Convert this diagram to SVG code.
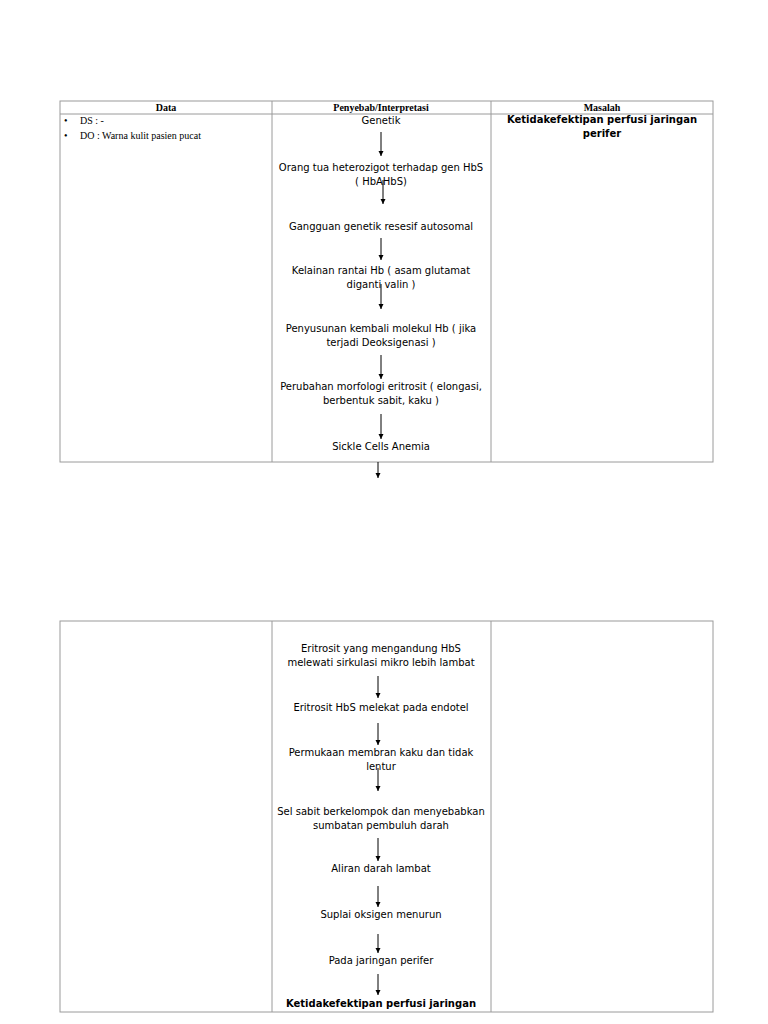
<svg xmlns="http://www.w3.org/2000/svg" width="768" height="1024" viewBox="0 0 768 1024">
<style>
.grid{fill:none;stroke:#9a9a9a;stroke-width:1}
.t{font-family:"DejaVu Sans",sans-serif;font-size:10px;fill:#000;text-anchor:middle}
.b{font-weight:bold}
.s{font-family:"Liberation Serif",serif;font-size:10px;fill:#000}
.h{font-family:"Liberation Serif",serif;font-size:10px;font-weight:bold;text-anchor:middle}
.c line{stroke:#000;stroke-width:1}
</style>
<defs><marker id="a" markerWidth="6" markerHeight="6" refX="5" refY="3" orient="auto" markerUnits="userSpaceOnUse"><path d="M0,0.5 L5,3 L0,5.5 Z" fill="#000"/></marker></defs>
<rect fill="#fff" width="768" height="1024"/>
<g id="table1">
<rect class="grid" x="60" y="101" width="653" height="361"/>
<line class="grid" x1="60" y1="114" x2="713" y2="114"/>
<line class="grid" x1="272" y1="101" x2="272" y2="462"/>
<line class="grid" x1="491" y1="101" x2="491" y2="462"/>
<text class="h" x="166" y="111">Data</text>
<text class="h" x="381" y="111">Penyebab/Interpretasi</text>
<text class="h" x="602" y="111">Masalah</text>
<text class="s" x="64" y="124">•</text><text class="s" x="80" y="124">DS : -</text>
<text class="s" x="64" y="139">•</text><text class="s" x="80" y="139">DO : Warna kulit pasien pucat</text>
<text class="t b" x="602" y="123">Ketidakefektipan perfusi jaringan</text>
<text class="t b" x="602" y="137">perifer</text>
</g>
<g id="table2">
<rect class="grid" x="60" y="621" width="653" height="391"/>
<line class="grid" x1="272" y1="621" x2="272" y2="1012"/>
<line class="grid" x1="491" y1="621" x2="491" y2="1012"/>
</g>
<g id="n1"><text class="t" x="381" y="124">Genetik</text></g>
<g id="n2"><text class="t" x="381" y="171">Orang tua heterozigot terhadap gen HbS</text><text class="t" x="381" y="185">( HbAHbS)</text></g>
<g id="n3"><text class="t" x="381" y="230">Gangguan genetik resesif autosomal</text></g>
<g id="n4"><text class="t" x="381" y="274">Kelainan rantai Hb ( asam glutamat</text><text class="t" x="381" y="288">diganti valin )</text></g>
<g id="n5"><text class="t" x="381" y="332">Penyusunan kembali molekul Hb ( jika</text><text class="t" x="381" y="346">terjadi Deoksigenasi )</text></g>
<g id="n6"><text class="t" x="381" y="390">Perubahan morfologi eritrosit ( elongasi,</text><text class="t" x="381" y="404">berbentuk sabit, kaku )</text></g>
<g id="n7"><text class="t" x="381" y="450">Sickle Cells Anemia</text></g>
<g id="n8"><text class="t" x="381" y="652">Eritrosit yang mengandung HbS</text><text class="t" x="381" y="666">melewati sirkulasi mikro lebih lambat</text></g>
<g id="n9"><text class="t" x="381" y="711">Eritrosit HbS melekat pada endotel</text></g>
<g id="n10"><text class="t" x="381" y="756">Permukaan membran kaku dan tidak</text><text class="t" x="381" y="770">lentur</text></g>
<g id="n11"><text class="t" x="381" y="815">Sel sabit berkelompok dan menyebabkan</text><text class="t" x="381" y="829">sumbatan pembuluh darah</text></g>
<g id="n12"><text class="t" x="381" y="872">Aliran darah lambat</text></g>
<g id="n13"><text class="t" x="381" y="918">Suplai oksigen menurun</text></g>
<g id="n14"><text class="t" x="381" y="964">Pada jaringan perifer</text></g>
<g id="n15"><text class="t b" x="381" y="1007">Ketidakefektipan perfusi jaringan</text></g>
<g class="c" id="connectors">
<line x1="381" y1="132" x2="381" y2="156" marker-end="url(#a)"/>
<line x1="383" y1="180" x2="383" y2="204" marker-end="url(#a)"/>
<line x1="381" y1="238" x2="381" y2="260" marker-end="url(#a)"/>
<line x1="381" y1="284" x2="381" y2="309" marker-end="url(#a)"/>
<line x1="381" y1="355" x2="381" y2="379" marker-end="url(#a)"/>
<line x1="381" y1="414" x2="381" y2="439" marker-end="url(#a)"/>
<line x1="378" y1="462" x2="378" y2="478" marker-end="url(#a)"/>
<line x1="378" y1="676" x2="378" y2="698" marker-end="url(#a)"/>
<line x1="378" y1="723" x2="378" y2="745" marker-end="url(#a)"/>
<line x1="378" y1="768" x2="378" y2="791" marker-end="url(#a)"/>
<line x1="378" y1="838" x2="378" y2="861" marker-end="url(#a)"/>
<line x1="378" y1="886" x2="378" y2="907" marker-end="url(#a)"/>
<line x1="378" y1="934" x2="378" y2="953" marker-end="url(#a)"/>
<line x1="378" y1="974" x2="378" y2="995" marker-end="url(#a)"/>
</g>
</svg>
